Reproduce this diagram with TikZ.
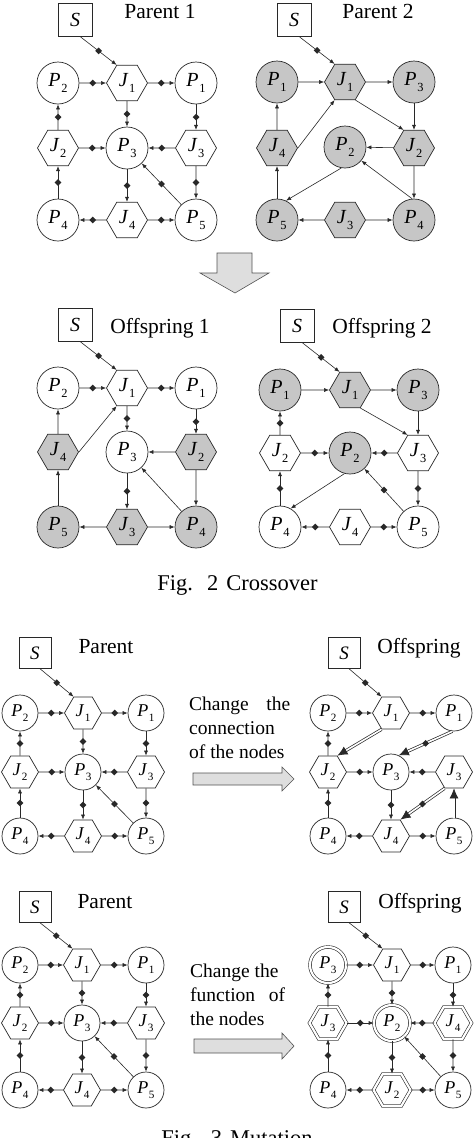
\documentclass[tikz,border=0pt]{standalone}
\usepackage{fontspec}
\setmainfont{Liberation Serif}
\usetikzlibrary{arrows.meta,shapes.geometric}
\definecolor{linec}{RGB}{40,40,40}
\definecolor{nodegray}{RGB}{198,198,198}
\definecolor{arrowgray}{RGB}{222,222,222}
\newcommand{\nlab}[2]{\textit{#1}\kern0.03em\raisebox{-0.28em}{\scalebox{0.62}{#2}}}
\newcommand{\dedge}[2]{\draw[arr] (#1) -- node[dia]{} (#2);}
\newcommand{\pedge}[2]{\draw[arr] (#1) -- (#2);}
\begin{document}
\begin{tikzpicture}[x=1pt,y=1pt,
  nd/.style={draw=linec, line width=0.7pt, inner sep=0pt, fill=white},
  pc/.style={nd, circle, minimum size=42pt, font=\fontsize{20}{20}\selectfont},
  jh/.style={nd, regular polygon, regular polygon sides=6, minimum size=41pt, font=\fontsize{20}{20}\selectfont},
  sb/.style={nd, rectangle, minimum width=34pt, minimum height=33pt, font=\fontsize{20}{20}\selectfont\itshape},
  pcs/.style={pc, minimum size=36pt, font=\fontsize{18}{18}\selectfont},
  jhs/.style={jh, minimum size=37pt, font=\fontsize{18}{18}\selectfont},
  sbs/.style={sb, minimum width=32pt, minimum height=31pt, font=\fontsize{19}{19}\selectfont\itshape},
  gr/.style={fill=nodegray},
  dbn/.style={double=white, double distance=2.2pt, line width=0.6pt},
  arr/.style={draw=linec, line width=0.6pt, -{Latex[length=5pt,width=4pt]}},
  dia/.style={diamond, fill=linec, draw=none, inner sep=0pt, minimum size=7pt},
  dbl/.style={draw=linec, line width=0.7pt, double=white, double distance=1.6pt, -{Latex[length=10pt,width=9pt]}},
  ttl/.style={font=\fontsize{21.5}{21.5}\selectfont, anchor=base, inner sep=0pt},
  figcap/.style={font=\fontsize{22.5}{22.5}\selectfont, anchor=base, inner sep=0pt},
  bigarr/.style={draw=linec!80, line width=0.6pt, fill=arrowgray},
  desc/.style={font=\fontsize{19.5}{24}\selectfont, align=left, anchor=north west, inner sep=0pt},
]
\useasboundingbox (0,0) rectangle (474,-1138);
\fill[white] (0,0) rectangle (474,-1138);

% ---------------- Crossover: Parent 1 ----------------
\node[sb] (aS) at (75,-20) {S};
\node[ttl] (aT) at (160,-18) {Parent 1};
\node[pc] (aP2) at (58,-83) {\nlab{P}{2}};
\node[jh] (aJ1) at (127,-83) {\nlab{J}{1}};
\node[pc] (aP1) at (196,-83) {\nlab{P}{1}};
\node[jh] (aJ2) at (58,-148) {\nlab{J}{2}};
\node[pc] (aP3) at (127,-148) {\nlab{P}{3}};
\node[jh] (aJ3) at (196,-148) {\nlab{J}{3}};
\node[pc] (aP4) at (58,-220) {\nlab{P}{4}};
\node[jh] (aJ4) at (127,-220) {\nlab{J}{4}};
\node[pc] (aP5) at (196,-220) {\nlab{P}{5}};
\dedge{aS.-72}{aJ1.120}
\dedge{aP2}{aJ1}
\dedge{aJ1}{aP1}
\dedge{aJ1}{aP3}
\dedge{aP1}{aJ3}
\dedge{aJ2}{aP2}
\dedge{aJ2}{aP3}
\dedge{aJ3}{aP3}
\dedge{aP4}{aJ2}
\dedge{aP3}{aJ4}
\dedge{aJ3}{aP5}
\dedge{aP5}{aP3}
\dedge{aJ4}{aP4}
\dedge{aJ4}{aP5}

% ---------------- Crossover: Parent 2 ----------------
\node[sb] (bS) at (294,-20) {S};
\node[ttl] (bT) at (378,-18) {Parent 2};
\node[pc,gr] (bP1) at (277,-82) {\nlab{P}{1}};
\node[jh,gr] (bJ1) at (345,-82) {\nlab{J}{1}};
\node[pc,gr] (bP3) at (414,-82) {\nlab{P}{3}};
\node[jh,gr] (bJ4) at (277,-148) {\nlab{J}{4}};
\node[pc,gr] (bP2) at (345,-147) {\nlab{P}{2}};
\node[jh,gr] (bJ2) at (414,-148) {\nlab{J}{2}};
\node[pc,gr] (bP5) at (277,-220) {\nlab{P}{5}};
\node[jh,gr] (bJ3) at (345,-220) {\nlab{J}{3}};
\node[pc,gr] (bP4) at (414,-220) {\nlab{P}{4}};
\dedge{bS.-72}{bJ1.120}
\pedge{bP1}{bJ1}
\pedge{bJ1}{bP3}
\pedge{bJ1.-60}{bJ2.120}
\pedge{bP3}{bJ2}
\pedge{bJ4}{bP1}
\pedge{bJ4.0}{bJ1.240}
\pedge{bJ2}{bP2}
\pedge{bJ2}{bP4}
\pedge{bP2.-100}{bP5.65}
\pedge{bP5}{bJ4}
\pedge{bP4.95}{bP2.-40}
\pedge{bJ3}{bP5}
\pedge{bJ3}{bP4}

% big down arrow
\draw[bigarr] (217,-253) -- (252,-253) -- (252,-273) -- (269,-273) -- (235,-293) -- (200,-273) -- (217,-273) -- cycle;

% ---------------- Crossover: Offspring 1 ----------------
\node[sb] (cS) at (75,-325) {S};
\node[ttl] (cT) at (160,-333) {Offspring 1};
\node[pc] (cP2) at (58,-388) {\nlab{P}{2}};
\node[jh] (cJ1) at (127,-388) {\nlab{J}{1}};
\node[pc] (cP1) at (196,-388) {\nlab{P}{1}};
\node[jh,gr] (cJ4) at (58,-452) {\nlab{J}{4}};
\node[pc] (cP3) at (127,-452) {\nlab{P}{3}};
\node[jh,gr] (cJ2) at (196,-452) {\nlab{J}{2}};
\node[pc,gr] (cP5) at (58,-527) {\nlab{P}{5}};
\node[jh,gr] (cJ3) at (127,-527) {\nlab{J}{3}};
\node[pc,gr] (cP4) at (196,-527) {\nlab{P}{4}};
\dedge{cS.-72}{cJ1.120}
\dedge{cP2}{cJ1}
\dedge{cJ1}{cP1}
\dedge{cJ1}{cP3}
\dedge{cP1}{cJ2}
\pedge{cJ4}{cP2}
\pedge{cJ4.0}{cJ1.240}
\pedge{cJ2}{cP3}
\pedge{cJ2}{cP4}
\dedge{cP3}{cJ3}
\pedge{cP4}{cP3}
\pedge{cP5}{cJ4}
\pedge{cJ3}{cP5}
\pedge{cJ3}{cP4}

% ---------------- Crossover: Offspring 2 ----------------
\node[sb] (dS) at (297,-326) {S};
\node[ttl] (dT) at (382,-333) {Offspring 2};
\node[pc,gr] (dP1) at (280,-390) {\nlab{P}{1}};
\node[jh,gr] (dJ1) at (350,-390) {\nlab{J}{1}};
\node[pc,gr] (dP3) at (418,-390) {\nlab{P}{3}};
\node[jh] (dJ2) at (280,-453) {\nlab{J}{2}};
\node[pc,gr] (dP2) at (350,-453) {\nlab{P}{2}};
\node[jh] (dJ3) at (418,-453) {\nlab{J}{3}};
\node[pc] (dP4) at (280,-527) {\nlab{P}{4}};
\node[jh] (dJ4) at (350,-527) {\nlab{J}{4}};
\node[pc] (dP5) at (418,-527) {\nlab{P}{5}};
\dedge{dS.-72}{dJ1.120}
\pedge{dP1}{dJ1}
\pedge{dJ1}{dP3}
\pedge{dJ1.-60}{dJ3.120}
\pedge{dP3}{dJ3}
\dedge{dJ2}{dP1}
\dedge{dJ2}{dP2}
\dedge{dJ3}{dP2}
\dedge{dJ3}{dP5}
\dedge{dP4}{dJ2}
\pedge{dP2.-105}{dP4.60}
\dedge{dP5}{dP2}
\dedge{dJ4}{dP4}
\dedge{dJ4}{dP5}

\node[figcap] (cap2) at (237.5,-590) {Fig.\hspace{14pt}2\hspace{8pt}Crossover};

% ---------------- Mutation 1: Parent ----------------
\node[sbs] (eS) at (35,-653) {S};
\node[ttl] (eT) at (106,-653) {Parent};
\node[pcs] (eP2) at (20,-713) {\nlab{P}{2}};
\node[jhs] (eJ1) at (83,-713) {\nlab{J}{1}};
\node[pcs] (eP1) at (146,-713) {\nlab{P}{1}};
\node[jhs] (eJ2) at (20,-772) {\nlab{J}{2}};
\node[pcs] (eP3) at (83,-772) {\nlab{P}{3}};
\node[jhs] (eJ3) at (146,-772) {\nlab{J}{3}};
\node[pcs] (eP4) at (20,-836) {\nlab{P}{4}};
\node[jhs] (eJ4) at (83,-836) {\nlab{J}{4}};
\node[pcs] (eP5) at (146,-836) {\nlab{P}{5}};
\dedge{eS.-72}{eJ1.120}
\dedge{eP2}{eJ1}
\dedge{eJ1}{eP1}
\dedge{eJ1}{eP3}
\dedge{eP1}{eJ3}
\dedge{eJ2}{eP2}
\dedge{eJ2}{eP3}
\dedge{eJ3}{eP3}
\dedge{eP4}{eJ2}
\dedge{eP3}{eJ4}
\dedge{eJ3}{eP5}
\dedge{eP5}{eP3}
\dedge{eJ4}{eP4}
\dedge{eJ4}{eP5}

\node[desc] (m1t) at (189,-697) {\makebox[101pt][s]{Change the}\\connection\\of the nodes};
\draw[bigarr] (193,-773) -- (282,-773) -- (282,-767) -- (294,-779) -- (282,-791) -- (282,-785) -- (193,-785) -- cycle;

% ---------------- Mutation 1: Offspring ----------------
\node[sbs] (fS) at (344,-653) {S};
\node[ttl] (fT) at (419,-653) {Offspring};
\node[pcs] (fP2) at (328,-713) {\nlab{P}{2}};
\node[jhs] (fJ1) at (391,-713) {\nlab{J}{1}};
\node[pcs] (fP1) at (454,-713) {\nlab{P}{1}};
\node[jhs] (fJ2) at (328,-772) {\nlab{J}{2}};
\node[pcs] (fP3) at (391,-772) {\nlab{P}{3}};
\node[jhs] (fJ3) at (454,-772) {\nlab{J}{3}};
\node[pcs] (fP4) at (328,-836) {\nlab{P}{4}};
\node[jhs] (fJ4) at (391,-836) {\nlab{J}{4}};
\node[pcs] (fP5) at (454,-836) {\nlab{P}{5}};
\dedge{fS.-72}{fJ1.120}
\dedge{fP2}{fJ1}
\dedge{fJ1}{fP1}
\dedge{fJ2}{fP2}
\dedge{fJ2}{fP3}
\dedge{fJ3}{fP3}
\dedge{fP4}{fJ2}
\dedge{fP3}{fJ4}
\dedge{fJ4}{fP4}
\dedge{fJ4}{fP5}
\draw[dbl] (fJ1.240) -- (fJ2.60);
\draw[dbl] (fP1.-95) -- node[dia]{} (fP3.65);
\draw[dbl] (fJ3.240) -- node[dia]{} (fJ4.60);
\draw[dbl] (fP5) -- (fJ3);

% ---------------- Mutation 2: Parent ----------------
\node[sbs] (gS) at (35,-907) {S};
\node[ttl] (gT) at (105,-908) {Parent};
\node[pcs] (gP2) at (20,-965) {\nlab{P}{2}};
\node[jhs] (gJ1) at (82,-965) {\nlab{J}{1}};
\node[pcs] (gP1) at (146,-965) {\nlab{P}{1}};
\node[jhs] (gJ2) at (20,-1023) {\nlab{J}{2}};
\node[pcs] (gP3) at (82,-1023) {\nlab{P}{3}};
\node[jhs] (gJ3) at (146,-1023) {\nlab{J}{3}};
\node[pcs] (gP4) at (20,-1090) {\nlab{P}{4}};
\node[jhs] (gJ4) at (82,-1090) {\nlab{J}{4}};
\node[pcs] (gP5) at (146,-1090) {\nlab{P}{5}};
\dedge{gS.-72}{gJ1.120}
\dedge{gP2}{gJ1}
\dedge{gJ1}{gP1}
\dedge{gJ1}{gP3}
\dedge{gP1}{gJ3}
\dedge{gJ2}{gP2}
\dedge{gJ2}{gP3}
\dedge{gJ3}{gP3}
\dedge{gP4}{gJ2}
\dedge{gP3}{gJ4}
\dedge{gJ3}{gP5}
\dedge{gP5}{gP3}
\dedge{gJ4}{gP4}
\dedge{gJ4}{gP5}

\node[desc] (m2t) at (190,-964) {Change the\\\makebox[95pt][s]{function of}\\the nodes};
\draw[bigarr] (194,-1039) -- (282,-1039) -- (282,-1033) -- (294,-1046) -- (282,-1059) -- (282,-1053) -- (194,-1053) -- cycle;

% ---------------- Mutation 2: Offspring ----------------
\node[sbs] (hS) at (344,-907) {S};
\node[ttl] (hT) at (420,-908) {Offspring};
\node[pcs,dbn] (hP3) at (328,-965) {\nlab{P}{3}};
\node[jhs] (hJ1) at (392,-965) {\nlab{J}{1}};
\node[pcs] (hP1) at (453,-965) {\nlab{P}{1}};
\node[jhs,dbn] (hJ3) at (328,-1023) {\nlab{J}{3}};
\node[pcs,dbn] (hP2) at (392,-1023) {\nlab{P}{2}};
\node[jhs,dbn] (hJ4) at (453,-1023) {\nlab{J}{4}};
\node[pcs] (hP4) at (328,-1090) {\nlab{P}{4}};
\node[jhs,dbn] (hJ2) at (392,-1090) {\nlab{J}{2}};
\node[pcs] (hP5) at (453,-1090) {\nlab{P}{5}};
\dedge{hS.-72}{hJ1.120}
\dedge{hP3}{hJ1}
\dedge{hJ1}{hP1}
\dedge{hJ1}{hP2}
\dedge{hP1}{hJ4}
\dedge{hJ3}{hP3}
\dedge{hJ3}{hP2}
\dedge{hJ4}{hP2}
\dedge{hP4}{hJ3}
\dedge{hP2}{hJ2}
\dedge{hJ4}{hP5}
\dedge{hP5}{hP2}
\dedge{hJ2}{hP4}
\dedge{hJ2}{hP5}

\node[figcap] (cap3) at (237,-1145) {Fig.\hspace{14pt}3\hspace{8pt}Mutation};
\end{tikzpicture}
\end{document}
